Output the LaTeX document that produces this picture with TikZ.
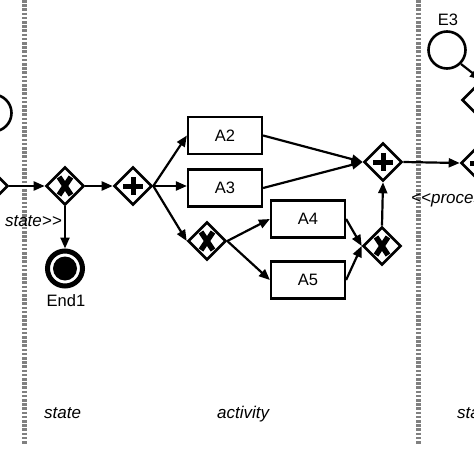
\documentclass[tikz,border=0pt]{standalone}
\usepackage{fontspec}
\setmainfont{Liberation Sans}
\usetikzlibrary{shapes.geometric,arrows.meta}
\begin{document}
\begin{tikzpicture}[x=1pt,y=-1pt,
  lane/.style={line width=5pt, draw=black!50, dash pattern=on 2.5pt off 1.7pt},
  flow/.style={line width=2.2pt, -{Triangle[length=11pt,width=9pt]}},
  gw/.style={diamond, draw, line width=2.6pt, minimum width=38pt, minimum height=38pt, inner sep=0pt, fill=white},
  xgw/.style={gw, path picture={
      \draw[line width=5.5pt] ([shift={(-6,-9)}]path picture bounding box.center) -- ([shift={(6,9)}]path picture bounding box.center);
      \draw[line width=5.5pt] ([shift={(6,-9)}]path picture bounding box.center) -- ([shift={(-6,9)}]path picture bounding box.center);}},
  pgw/.style={gw, path picture={
      \draw[line width=5pt] ([shift={(-10,0)}]path picture bounding box.center) -- ([shift={(10,0)}]path picture bounding box.center);
      \draw[line width=5pt] ([shift={(0,-9)}]path picture bounding box.center) -- ([shift={(0,9)}]path picture bounding box.center);}},
  task/.style={draw, line width=2.2pt, minimum width=74pt, minimum height=37pt, inner sep=0pt, font=\fontsize{16.5}{18}\selectfont},
  evt/.style={circle, draw, line width=2.6pt, minimum size=37pt, inner sep=0pt},
  lbl/.style={inner sep=0pt, font=\fontsize{16.5}{18}\selectfont},
  ilbl/.style={inner sep=0pt, font=\fontsize{17}{19}\selectfont\itshape}
]
\path[use as bounding box] (0,0) rectangle (474,474);
\clip (0,0) rectangle (474,474);
\fill[white] (0,0) rectangle (474,474);

% lane separators
\coordinate (l1t) at (24.5,0);
\coordinate (l1b) at (24.5,445);
\coordinate (l2t) at (418.5,0);
\coordinate (l2b) at (418.5,445);
\draw[lane] (l1t) -- (l1b);
\draw[lane] (l2t) -- (l2b);

% left lane (partial)
\node[evt] (lcirc) at (-7,113) {};
\node[pgw] (lplus) at (-11,186) {};

% middle
\node[xgw] (x1) at (65,186) {};
\node[circle, draw, line width=5pt, minimum size=35pt, inner sep=0pt] (end1) at (65,268.5) {};
\fill (end1.center) circle (12);
\node[lbl, anchor=base] (end1l) at (66,306) {End1};
\node[pgw] (p1) at (133,186) {};
\node[task] (a2) at (225,135.5) {A2};
\node[task] (a3) at (225,188) {A3};
\node[xgw] (x2) at (207,241) {};
\node[task] (a4) at (308,219) {A4};
\node[task] (a5) at (308,280) {A5};
\node[xgw] (x3) at (382,246) {};
\node[pgw] (p2) at (383,162) {};

% right lane (partial)
\node[evt] (e3) at (447,50) {};
\node[lbl, anchor=base] (e3l) at (448,25) {E3};
\node[gw] (rgw) at (481,100) {};
\node[pgw] (rplus) at (480,163) {};

% labels
\node[ilbl, anchor=base east] (ls1) at (62,226) {{<}{<}process state{>}{>}};
\node[ilbl, anchor=base west] (ls2) at (411,203) {{<}{<}process state{>}{>}};
\node[ilbl, anchor=base west] (lane1) at (44,418) {state};
\node[ilbl, anchor=base west] (lane2) at (217,418) {activity};
\node[ilbl, anchor=base west] (lane3) at (457,418) {state};

% flows
\draw[flow] (lplus.east) -- (x1.west);
\draw[flow] (x1.east) -- (p1.west);
\draw[flow] (x1.south) -- (end1.north);
\draw[flow] (p1.east) -- (a2.west);
\draw[flow] (p1.east) -- (a3.west |- p1.east);
\draw[flow] (p1.east) -- (x2.west);
\draw[flow] (x2.east) -- (a4.west);
\draw[flow] (x2.east) -- (a5.west);
\draw[flow] (a2.east) -- (p2.west);
\draw[flow] (a3.east) -- (p2.west);
\draw[flow] (a4.east) -- (x3.west);
\draw[flow] (a5.east) -- (x3.west);
\draw[flow] (x3.north) -- (p2.south);
\draw[flow] (p2.east) -- (rplus.west);
\draw[flow] (e3.-45) -- (rgw.north);
\end{tikzpicture}
\end{document}
